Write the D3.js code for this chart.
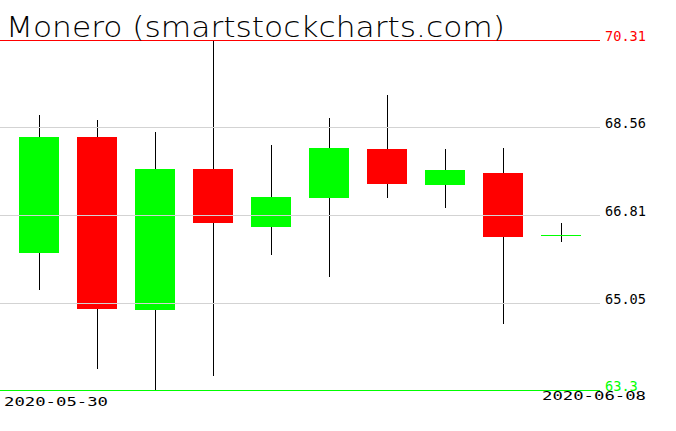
<!DOCTYPE html>
<html>
<head>
<meta charset="utf-8">
<script src="https://cdn.jsdelivr.net/npm/d3@7"></script>
<style>
    html, body { margin: 0; padding: 0; background: #fff; overflow: hidden; }
    svg { display: block; }
</style>
</head>
<body>
<div id="chart"></div>
<script>
// daily candles
var dates = ['2020-05-30', '2020-05-31', '2020-06-01', '2020-06-02', '2020-06-03',
    '2020-06-04', '2020-06-05', '2020-06-06', '2020-06-07', '2020-06-08'];
var opens = [66.04, 68.37, 64.90, 67.73, 66.57, 67.15, 68.13, 67.41, 67.65, 66.40];
var highs = [68.81, 68.71, 68.47, 70.31, 68.21, 68.75, 69.21, 68.13, 68.15, 66.65];
var lows = [65.30, 63.72, 63.30, 63.58, 66.00, 65.57, 67.15, 66.95, 64.63, 66.27];
var closes = [68.37, 64.92, 67.73, 66.65, 67.17, 68.15, 67.43, 67.71, 66.37, 66.40];

var priceTicks = [70.31, 68.56, 66.81, 65.05, 63.3];
var title = 'Monero (smartstockcharts.com)';

var width = 676, height = 431;

var svg = d3.select('#chart').append('svg')
    .attr('width', width)
    .attr('height', height);

var x = d3.scaleBand()
    .domain(dates)
    .range([10, 590])
    .paddingInner(0.31)
    .paddingOuter(0.155);

var y = d3.scaleLinear()
    .domain([d3.min(priceTicks), d3.max(priceTicks)])
    .range([390, 40]);

function mid(d) {
    return Math.floor(x(d) + x.bandwidth() / 2) + 0.5;
}

var candles = dates.map(function (d, i) {
    return {date: d, o: opens[i], h: highs[i], l: lows[i], c: closes[i]};
});

// wicks first so the bodies cover them
var g = svg.append('g').attr('shape-rendering', 'crispEdges');

g.selectAll('line.wick')
    .data(candles)
    .enter().append('line')
    .attr('class', 'wick')
    .attr('x1', function (d) { return mid(d.date); })
    .attr('x2', function (d) { return mid(d.date); })
    .attr('y1', function (d) { return y(d.h); })
    .attr('y2', function (d) { return y(d.l); })
    .attr('stroke', '#000')
    .attr('stroke-width', 1);

g.selectAll('rect.body')
    .data(candles)
    .enter().append('rect')
    .attr('class', 'body')
    .attr('x', function (d) { return Math.round(x(d.date)); })
    .attr('width', Math.round(x.bandwidth()))
    .attr('y', function (d) { return Math.round(y(Math.max(d.o, d.c))); })
    .attr('height', function (d) {
        return Math.max(1, Math.round(Math.abs(y(d.o) - y(d.c))));
    })
    .attr('fill', function (d) { return d.c >= d.o ? '#00ff00' : '#ff0000'; });

// horizontal price lines, top one red, bottom one green
function lineColor(v, i) {
    if (i == 0) return '#ff0000';
    if (i == priceTicks.length - 1) return '#00ff00';
    return '#d3d3d3';
}
function labelColor(v, i) {
    if (i == 0) return '#ff0000';
    if (i == priceTicks.length - 1) return '#00ff00';
    return '#000';
}

g.selectAll('line.grid')
    .data(priceTicks)
    .enter().append('line')
    .attr('class', 'grid')
    .attr('x1', 0)
    .attr('x2', 600)
    .attr('y1', function (d) { return Math.round(y(d)) + 0.5; })
    .attr('y2', function (d) { return Math.round(y(d)) + 0.5; })
    .attr('stroke', lineColor)
    .attr('stroke-width', function (d, i) { return (i == 0 || i == priceTicks.length - 1) ? 1.5 : 1; });

svg.selectAll('text.price')
    .data(priceTicks)
    .enter().append('text')
    .attr('class', 'price')
    .attr('x', 605)
    .attr('y', function (d) { return y(d) + 1; })
    .attr('fill', labelColor)
    .style('font-family', '"DejaVu Sans Mono", monospace')
    .style('font-size', '14px')
    .attr('textLength', function (d) { return String(d).length * 8.2; })
    .attr('lengthAdjust', 'spacingAndGlyphs')
    .text(function (d) { return d; });

// first and last date under the plot
svg.append('text')
    .attr('x', 4)
    .attr('y', 406)
    .style('font-family', '"DejaVu Sans Mono", monospace')
    .style('font-size', '13px')
    .attr('textLength', 104)
    .attr('lengthAdjust', 'spacingAndGlyphs')
    .text(dates[0]);

svg.append('text')
    .attr('x', 646)
    .attr('y', 400)
    .attr('text-anchor', 'end')
    .style('font-family', '"DejaVu Sans Mono", monospace')
    .style('font-size', '13px')
    .attr('textLength', 104)
    .attr('lengthAdjust', 'spacingAndGlyphs')
    .text(dates[dates.length - 1]);

// thin title like the original hershey-ish font
svg.append('text')
    .attr('x', 6)
    .attr('y', 37)
    .style('font-family', '"DejaVu Sans ExtraLight", "DejaVu Sans", sans-serif')
    .style('font-weight', '200')
    .style('font-size', '29px')
    .attr('textLength', 499)
    .attr('lengthAdjust', 'spacingAndGlyphs')
    .text(title);
</script>
</body>
</html>
